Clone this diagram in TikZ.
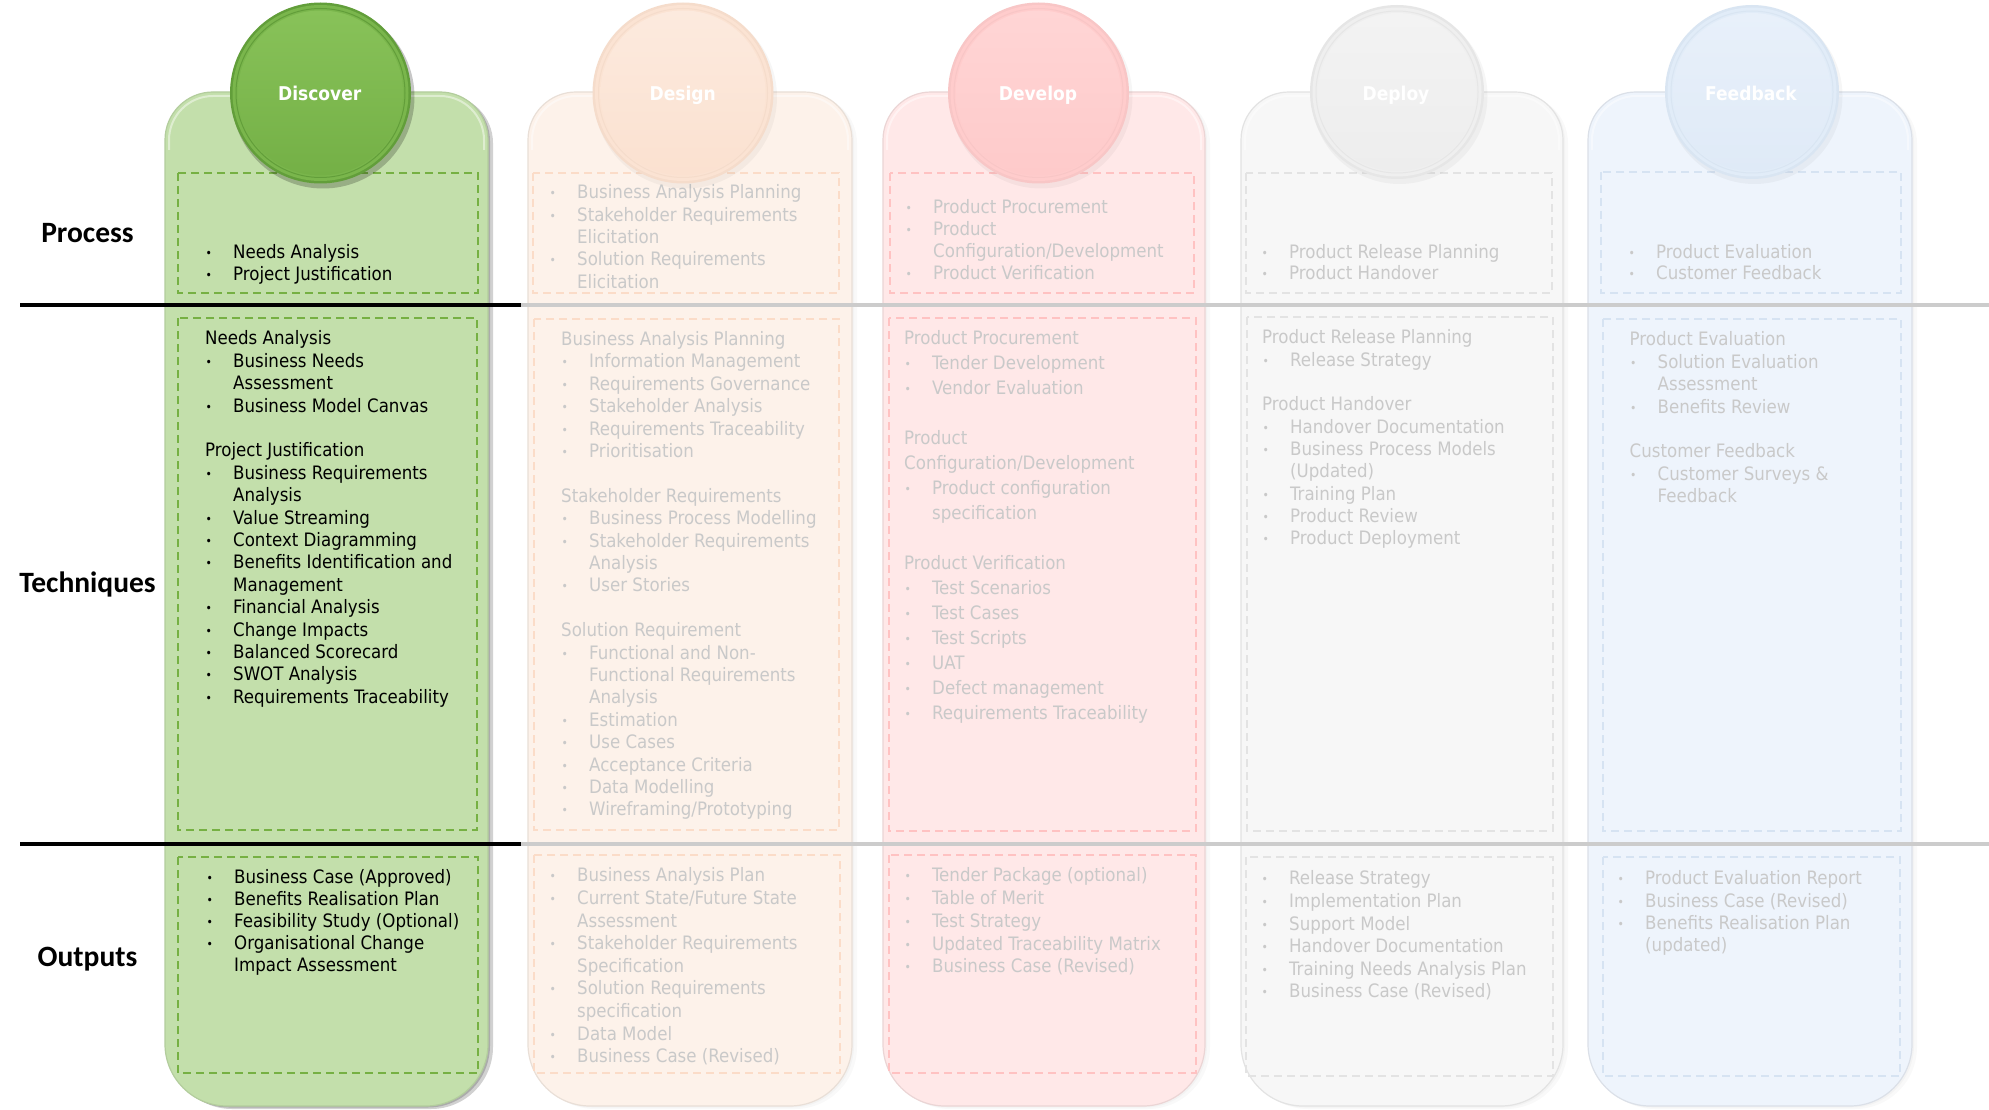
\documentclass[tikz,border=0pt]{standalone}
\usepackage{fontspec}
\setmainfont{DejaVu Sans Condensed}
\newfontfamily\lblfont{Carlito}
\definecolor{dgFill}{HTML}{C3DFAB}
\definecolor{dgDash}{HTML}{76B043}
\definecolor{dsFill}{HTML}{FDF2EA}
\definecolor{dsDash}{HTML}{FBDCC8}
\definecolor{dvFill}{HTML}{FFE8E8}
\definecolor{dvDash}{HTML}{FFC2C2}
\definecolor{dpFill}{HTML}{F7F7F7}
\definecolor{dpDash}{HTML}{E3E3E3}
\definecolor{fbFill}{HTML}{EEF4FC}
\definecolor{fbDash}{HTML}{D6E3F2}
\definecolor{fadeText}{HTML}{C9C9C9}
% circle colours
\definecolor{dgOut}{HTML}{629E3A}\definecolor{dgRing}{HTML}{7AB64C}\definecolor{dgTop}{HTML}{88C259}\definecolor{dgBot}{HTML}{74B046}
\definecolor{dsOut}{HTML}{F5DCCB}\definecolor{dsRing}{HTML}{FBE3D3}\definecolor{dsTop}{HTML}{FCEADE}\definecolor{dsBot}{HTML}{FBE1D0}
\definecolor{dvOut}{HTML}{F8C6C6}\definecolor{dvRing}{HTML}{FFCCCC}\definecolor{dvTop}{HTML}{FFD5D5}\definecolor{dvBot}{HTML}{FECACA}
\definecolor{dpOut}{HTML}{E6E6E6}\definecolor{dpRing}{HTML}{EFEFEF}\definecolor{dpTop}{HTML}{F3F3F3}\definecolor{dpBot}{HTML}{EDEDED}
\definecolor{fbOut}{HTML}{D9E5F2}\definecolor{fbRing}{HTML}{E1ECF8}\definecolor{fbTop}{HTML}{E8F0FA}\definecolor{fbBot}{HTML}{DFEAF7}
\newcommand\stagecol[4]{%
 \fill[black,opacity=#4] ({#1+5},600) [rounded corners=48pt] -- ({#1+5},95) -- ({#2+5},95) -- ({#2+5},600) [rounded corners=62pt] -- ({#2+5},1109) -- ({#1+5},1109) -- cycle;
 \fill[black,opacity=#4] ({#1+2},600) [rounded corners=48pt] -- ({#1+2},93) -- ({#2+2},93) -- ({#2+2},600) [rounded corners=62pt] -- ({#2+2},1107.5) -- ({#1+2},1107.5) -- cycle;
 \filldraw[fill=#3,draw=#3!92!black,line width=1.2pt] (#1,600) [rounded corners=48pt] -- (#1,92) -- (#2,92) -- (#2,600) [rounded corners=62pt] -- (#2,1106) -- (#1,1106) -- cycle;
 \draw[white,opacity=0.45,line width=2pt] ({#1+4},150) [rounded corners=44pt] -- ({#1+4},96) -- ({#2-4},96) -- ({#2-4},150);
}
\newcommand\stagecirc[8]{%
 \fill[black,opacity=#8] ({#1+2.5},{#2+4}) circle ({#3+1});
 \fill[#4] (#1,#2) circle (#3);
 \fill[#5] (#1,#2) circle ({#3-2.5});
 \draw[#4,line width=1pt] (#1,#2) circle ({#3-6});
 \shade[top color=#6,bottom color=#7] (#1,#2) circle ({#3-8});
}
\newcommand\dbox[5]{\draw[#5,line width=1.8pt,dash pattern=on 8pt off 5pt] (#1,#2) rectangle (#3,#4);}
\newcommand\hd[1]{\strut#1}
\newcommand\bi[1]{\strut\makebox[28pt][l]{\hspace{0.5pt}\raisebox{1pt}{\fontsize{12}{12}\selectfont\textbullet}}#1}
\newcommand\ci[1]{\strut\hspace*{28pt}#1}
\newcommand\tblock[6]{\node[tb,text=#5,font=\fontsize{18.5}{#4}\selectfont] (#1) at (#2,{#3+6.7-0.7*#4}) {#6};}
\begin{document}
\begin{tikzpicture}[x=1pt,y=-1pt,
  tb/.style={anchor=north west,inner sep=0pt,align=left},
  rowlabel/.style={anchor=base,inner sep=0pt,font=\lblfont\bfseries\fontsize{29.5}{31}\selectfont},
  circlabel/.style={anchor=base,inner sep=0pt,text=white,font=\bfseries\fontsize{19}{19}\selectfont}]
\useasboundingbox (0,0) rectangle (1989,1110);
\fill[white] (0,0) rectangle (1989,1110);

% columns
\stagecol{165}{488}{dgFill}{0.18}
\stagecol{528}{852}{dsFill}{0.025}
\stagecol{883}{1205}{dvFill}{0.025}
\stagecol{1241}{1563}{dpFill}{0.025}
\stagecol{1588}{1912}{fbFill}{0.025}

% dashed boxes
\dbox{178}{173}{478}{293}{dgDash}
\dbox{178}{318}{477}{830}{dgDash}
\dbox{178}{857}{478}{1073}{dgDash}
\dbox{533}{173}{839}{293}{dsDash}
\dbox{534}{319}{839}{830}{dsDash}
\dbox{534}{855}{840}{1073}{dsDash}
\dbox{890}{173}{1194}{293}{dvDash}
\dbox{889}{318}{1196}{831}{dvDash}
\dbox{889}{855}{1196}{1073}{dvDash}
\dbox{1246}{173}{1552}{293}{dpDash}
\dbox{1247}{317}{1553}{831}{dpDash}
\dbox{1246}{857}{1553}{1076}{dpDash}
\dbox{1601}{172}{1901}{293}{fbDash}
\dbox{1603}{319}{1901}{831}{fbDash}
\dbox{1603}{857}{1900}{1076}{fbDash}

% separator lines
\draw[line width=4pt,black] (20,305) -- (521,305);
\draw[line width=4pt,black!20] (521,305) -- (1989,305);
\draw[line width=4pt,black] (20,844) -- (521,844);
\draw[line width=4pt,black!20] (521,844) -- (1989,844);

% row labels
\node[rowlabel] (lProcess) at (87.5,242) {Process};
\node[rowlabel] (lTech) at (87.5,592) {Techniques};
\node[rowlabel] (lOut) at (87.5,966) {Outputs};

% Discover texts
\tblock{dP}{205}{252}{21.5}{black}{\bi{Needs Analysis}\\\bi{Project Justification}}
\tblock{dT}{205}{338}{22.4}{black}{\hd{Needs Analysis}\\\bi{Business Needs}\\\ci{Assessment}\\\bi{Business Model Canvas}\\[\baselineskip]\hd{Project Justification}\\\bi{Business Requirements}\\\ci{Analysis}\\\bi{Value Streaming}\\\bi{Context Diagramming}\\\bi{Benefits Identification and}\\\ci{Management}\\\bi{Financial Analysis}\\\bi{Change Impacts}\\\bi{Balanced Scorecard}\\\bi{SWOT Analysis}\\\bi{Requirements Traceability}}
\tblock{dO}{206}{877}{22}{black}{\bi{Business Case (Approved)}\\\bi{Benefits Realisation Plan}\\\bi{Feasibility Study (Optional)}\\\bi{Organisational Change}\\\ci{Impact Assessment}}

% Design texts
\tblock{sP}{549}{192}{22.3}{fadeText}{\bi{Business Analysis Planning}\\\bi{Stakeholder Requirements}\\\ci{Elicitation}\\\bi{Solution Requirements}\\\ci{Elicitation}}
\tblock{sT}{561}{338.6}{22.4}{fadeText}{\hd{Business Analysis Planning}\\\bi{Information Management}\\\bi{Requirements Governance}\\\bi{Stakeholder Analysis}\\\bi{Requirements Traceability}\\\bi{Prioritisation}\\[\baselineskip]\hd{Stakeholder Requirements}\\\bi{Business Process Modelling}\\\bi{Stakeholder Requirements}\\\ci{Analysis}\\\bi{User Stories}\\[\baselineskip]\hd{Solution Requirement}\\\bi{Functional and Non-}\\\ci{Functional Requirements}\\\ci{Analysis}\\\bi{Estimation}\\\bi{Use Cases}\\\bi{Acceptance Criteria}\\\bi{Data Modelling}\\\bi{Wireframing/Prototyping}}
\tblock{sO}{549}{875}{22.6}{fadeText}{\bi{Business Analysis Plan}\\\bi{Current State/Future State}\\\ci{Assessment}\\\bi{Stakeholder Requirements}\\\ci{Specification}\\\bi{Solution Requirements}\\\ci{specification}\\\bi{Data Model}\\\bi{Business Case (Revised)}}

% Develop texts
\tblock{vP}{905}{207}{22}{fadeText}{\bi{Product Procurement}\\\bi{Product}\\\ci{Configuration/Development}\\\bi{Product Verification}}
\tblock{vT}{904}{338}{25}{fadeText}{\hd{Product Procurement}\\\bi{Tender Development}\\\bi{Vendor Evaluation}\\[\baselineskip]\hd{Product}\\\hd{Configuration/Development}\\\bi{Product configuration}\\\ci{specification}\\[\baselineskip]\hd{Product Verification}\\\bi{Test Scenarios}\\\bi{Test Cases}\\\bi{Test Scripts}\\\bi{UAT}\\\bi{Defect management}\\\bi{Requirements Traceability}}
\tblock{vO}{904}{875}{22.75}{fadeText}{\bi{Tender Package (optional)}\\\bi{Table of Merit}\\\bi{Test Strategy}\\\bi{Updated Traceability Matrix}\\\bi{Business Case (Revised)}}

% Deploy texts
\tblock{pP}{1261}{252}{21}{fadeText}{\bi{Product Release Planning}\\\bi{Product Handover}}
\tblock{pT}{1262}{337}{22.3}{fadeText}{\hd{Product Release Planning}\\\bi{Release Strategy}\\[\baselineskip]\hd{Product Handover}\\\bi{Handover Documentation}\\\bi{Business Process Models}\\\ci{(Updated)}\\\bi{Training Plan}\\\bi{Product Review}\\\bi{Product Deployment}}
\tblock{pO}{1261}{878}{22.6}{fadeText}{\bi{Release Strategy}\\\bi{Implementation Plan}\\\bi{Support Model}\\\bi{Handover Documentation}\\\bi{Training Needs Analysis Plan}\\\bi{Business Case (Revised)}}

% Feedback texts
\tblock{fP}{1628}{252}{21}{fadeText}{\bi{Product Evaluation}\\\bi{Customer Feedback}}
\tblock{fT}{1629.5}{339}{22.4}{fadeText}{\hd{Product Evaluation}\\\bi{Solution Evaluation}\\\ci{Assessment}\\\bi{Benefits Review}\\[\baselineskip]\hd{Customer Feedback}\\\bi{Customer Surveys \&}\\\ci{Feedback}}
\tblock{fO}{1617}{878}{22.3}{fadeText}{\bi{Product Evaluation Report}\\\bi{Business Case (Revised)}\\\bi{Benefits Realisation Plan}\\\ci{(updated)}}

% circles
\stagecirc{320.5}{93}{90.5}{dgOut}{dgRing}{dgTop}{dgBot}{0.22}
\stagecirc{683}{93}{90.5}{dsOut}{dsRing}{dsTop}{dsBot}{0.035}
\stagecirc{1038.5}{93}{90.5}{dvOut}{dvRing}{dvTop}{dvBot}{0.035}
\stagecirc{1397}{92}{87}{dpOut}{dpRing}{dpTop}{dpBot}{0.035}
\stagecirc{1752}{92}{87}{fbOut}{fbRing}{fbTop}{fbBot}{0.035}
\node[circlabel] (cDiscover) at (319.7,100.7) {Discover};
\node[circlabel] (cDesign) at (682.7,100.7) {Design};
\node[circlabel] (cDevelop) at (1038,100.7) {Develop};
\node[circlabel] (cDeploy) at (1396,100.7) {Deploy};
\node[circlabel] (cFeedback) at (1751,100.7) {Feedback};
\end{tikzpicture}
\end{document}
